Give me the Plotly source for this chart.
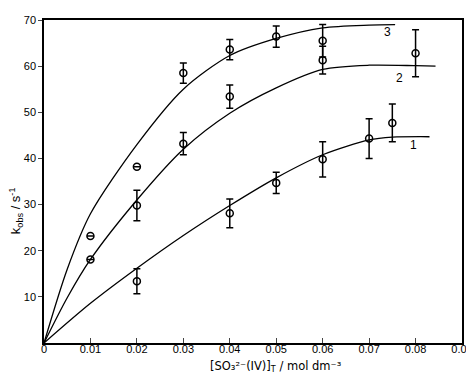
import plotly.graph_objects as go

# Measured points (x in mol dm^-3, k_obs in s^-1) with error bar half-widths
x1 = [0.02, 0.04, 0.05, 0.06, 0.07, 0.075]
y1 = [13.4, 28.1, 34.7, 39.8, 44.3, 47.7]
e1 = [2.7, 3.1, 2.3, 3.8, 4.3, 4.1]

x2 = [0.01, 0.02, 0.03, 0.04, 0.06, 0.08]
y2 = [18.1, 29.8, 43.2, 53.4, 61.3, 62.8]
e2 = [0.0, 3.3, 2.4, 2.5, 3.0, 5.1]

x3 = [0.01, 0.02, 0.03, 0.04, 0.05, 0.06]
y3 = [23.2, 38.2, 58.5, 63.6, 66.4, 65.5]
e3 = [0.0, 0.0, 2.2, 2.2, 2.3, 3.5]

# Fitted curves
cx1 = [0, 0.01, 0.02, 0.03, 0.04, 0.05, 0.06, 0.07, 0.075, 0.083]
cy1 = [0, 8.6, 16.2, 23.3, 29.8, 35.8, 40.8, 44.0, 44.6, 44.7]

cx2 = [0, 0.005, 0.01, 0.02, 0.03, 0.04, 0.05, 0.06, 0.07, 0.08, 0.0843]
cy2 = [0, 9.8, 18.1, 31.0, 42.0, 49.8, 55.3, 59.3, 60.2, 60.1, 60.0]

cx3 = [0, 0.005, 0.01, 0.02, 0.03, 0.04, 0.05, 0.06, 0.07, 0.0756]
cy3 = [0, 16.0, 28.0, 43.0, 55.0, 62.3, 66.0, 68.3, 68.9, 69.0]

curve_labels = ["1", "2", "3"]
label_x = [0.0795, 0.0765, 0.0740]
label_y = [43.0, 57.5, 67.5]

xticks = [0, 0.01, 0.02, 0.03, 0.04, 0.05, 0.06, 0.07, 0.08, 0.09]
xticklabels = ["0", "0.01", "0.02", "0.03", "0.04", "0.05", "0.06", "0.07", "0.08", "0.09"]
yticks = [10, 20, 30, 40, 50, 60, 70]
yticklabels = ["10", "20", "30", "40", "50", "60", "70"]

fig = go.Figure()
for cx, cy in [(cx1, cy1), (cx2, cy2), (cx3, cy3)]:
    fig.add_trace(go.Scatter(x=cx, y=cy, mode="lines", line=dict(color="black", width=1.3, shape="spline", smoothing=0.8),
                             showlegend=False, hoverinfo="skip"))
for x, y, e in [(x1, y1, e1), (x2, y2, e2), (x3, y3, e3)]:
    fig.add_trace(go.Scatter(x=x, y=y, mode="markers",
                             marker=dict(symbol="circle-open", size=7, color="black", line=dict(width=1.5)),
                             error_y=dict(type="data", array=e, visible=True, color="black", thickness=1.5, width=3.5),
                             showlegend=False))

for t, lx, ly in zip(curve_labels, label_x, label_y):
    fig.add_annotation(x=lx, y=ly, text=t, showarrow=False, font=dict(size=12, color="black", family="Liberation Sans"))

fig.add_annotation(x=-0.068, y=0.41, xref="paper", yref="paper", xanchor="center", yanchor="middle",
                   text="k<sub>obs</sub> / s<sup>-1</sup>", textangle=-90,
                   showarrow=False, font=dict(size=13, color="black", family="Liberation Sans"))
fig.add_annotation(x=0.555, y=-0.072, xref="paper", yref="paper", xanchor="center", yanchor="middle",
                   text="[SO\u2083\u00b2\u207b(IV)]<sub>T</sub> / mol dm\u207b\u00b3",
                   showarrow=False, font=dict(size=11.5, color="black", family="DejaVu Sans"))

fig.update_layout(
    width=474, height=374,
    margin=dict(l=36, r=20, t=6, b=39),
    paper_bgcolor="white", plot_bgcolor="white",
    font=dict(family="Liberation Sans", size=11, color="black"),
    xaxis=dict(range=[0, 0.09], tickvals=xticks, ticktext=xticklabels, ticks="inside", ticklen=5,
               ticklabelstandoff=-5,
               showgrid=False, zeroline=False, showline=True, linecolor="black", linewidth=1.5, mirror=True),
    yaxis=dict(range=[0, 70], tickvals=yticks, ticktext=yticklabels, ticks="outside", ticklen=4,
               showgrid=False, zeroline=False, showline=True, linecolor="black", linewidth=1.5, mirror=True),
)
fig.write_html("out.html")
